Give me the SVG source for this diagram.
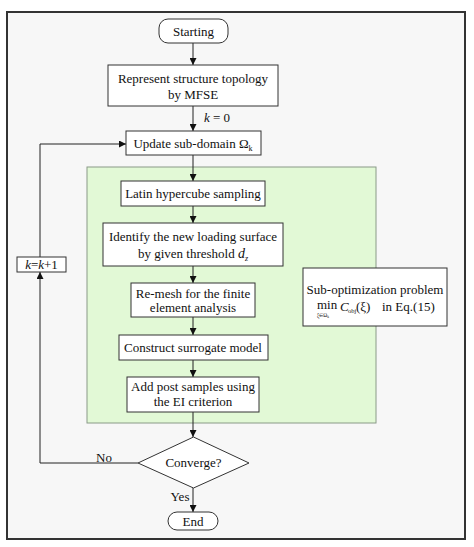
<svg xmlns="http://www.w3.org/2000/svg" width="474" height="547" viewBox="0 0 474 547">
<style>
.box{fill:#fff;stroke:#333;stroke-width:1}
.ln{fill:none;stroke:#222;stroke-width:1}
text{font-family:"Liberation Serif","Times New Roman",serif;font-size:13px;fill:#111}
.c{text-anchor:middle}
.i{font-style:italic}
</style>
<defs>
<marker id="ah" viewBox="0 0 8 8" refX="8" refY="4" markerWidth="7" markerHeight="7" markerUnits="userSpaceOnUse" orient="auto">
<path d="M0,0 L8,4 L0,8 z" fill="#111"/>
</marker>
</defs>
<rect x="0" y="0" width="474" height="547" fill="#fff"/>
<rect x="7" y="12" width="458" height="527" fill="#f7f7f7" stroke="#333" stroke-width="2"/>
<g id="loop">
<rect x="87" y="167" width="289" height="256" fill="#e2f9d6" stroke="#8a9a88" stroke-width="1"/>
</g>
<g id="connectors">
<line class="ln" x1="193" y1="43" x2="193" y2="65" marker-end="url(#ah)"/>
<line class="ln" x1="193" y1="106" x2="193" y2="131" marker-end="url(#ah)"/>
<line class="ln" x1="193" y1="155" x2="193" y2="181" marker-end="url(#ah)"/>
<line class="ln" x1="193" y1="206" x2="193" y2="223" marker-end="url(#ah)"/>
<line class="ln" x1="193" y1="266" x2="193" y2="283" marker-end="url(#ah)"/>
<line class="ln" x1="193" y1="317" x2="193" y2="335" marker-end="url(#ah)"/>
<line class="ln" x1="193" y1="360" x2="193" y2="377" marker-end="url(#ah)"/>
<line class="ln" x1="193" y1="412" x2="193" y2="437" marker-end="url(#ah)"/>
<line class="ln" x1="193" y1="488" x2="193" y2="512" marker-end="url(#ah)"/>
<polyline class="ln" points="138,463 40,463 40,272" marker-end="url(#ah)"/>
<polyline class="ln" points="40,257 40,144 126,144" marker-end="url(#ah)"/>
<text x="104" y="462" class="c">No</text>
<text x="180" y="501" class="c">Yes</text>
<text x="204" y="122"><tspan class="i">k</tspan> = 0</text>
</g>
<g id="start">
<rect class="box" x="159" y="19" width="69" height="24" rx="9"/>
<text x="193.5" y="36" class="c">Starting</text>
</g>
<g id="represent">
<rect class="box" x="108" y="65" width="170" height="41"/>
<text x="193" y="83" class="c">Represent structure topology</text>
<text x="193" y="99" class="c">by MFSE</text>
</g>
<g id="update">
<rect class="box" x="126" y="131" width="135" height="24"/>
<text x="193" y="147.5" class="c">Update sub-domain Ω<tspan font-size="8" dy="3">k</tspan></text>
</g>
<g id="latin">
<rect class="box" x="121" y="181" width="144" height="25"/>
<text x="193" y="198" class="c">Latin hypercube sampling</text>
</g>
<g id="identify">
<rect class="box" x="103" y="223" width="180" height="43"/>
<text x="193" y="241" class="c">Identify the new loading surface</text>
<text x="193" y="258" class="c">by given threshold <tspan class="i" font-size="14">d</tspan><tspan class="i" font-size="8" dy="3">z</tspan></text>
</g>
<g id="remesh">
<rect class="box" x="131" y="283" width="124" height="34"/>
<text x="193" y="298" class="c">Re-mesh for the finite</text>
<text x="193" y="312" class="c">element analysis</text>
</g>
<g id="construct">
<rect class="box" x="119" y="335" width="149" height="25"/>
<text x="193" y="352" class="c">Construct surrogate model</text>
</g>
<g id="addpost">
<rect class="box" x="127" y="377" width="132" height="35"/>
<text x="193" y="391" class="c">Add post samples using</text>
<text x="193" y="406" class="c">the EI criterion</text>
</g>
<g id="converge">
<polygon class="box" points="193.5,437 249,463 193.5,488 138,463"/>
<text x="193.5" y="467" class="c">Converge?</text>
</g>
<g id="end">
<rect class="box" x="168" y="512" width="50" height="18" rx="9"/>
<text x="193" y="525.5" class="c">End</text>
</g>
<g id="kinc">
<rect class="box" x="17" y="257" width="49" height="15"/>
<text x="41.5" y="269" class="c"><tspan class="i">k</tspan>=<tspan class="i">k</tspan>+1</text>
</g>
<g id="subopt">
<rect class="box" x="303" y="268" width="144" height="58"/>
<text x="375" y="294" class="c">Sub-optimization problem</text>
<text x="317" y="309" font-size="9.5">min</text>
<text transform="translate(317,317) scale(0.4)" font-size="12">ξ∈Ω<tspan font-size="9" dy="2">k</tspan></text>
<text x="340" y="311" class="i">C</text>
<text transform="translate(348,313) scale(0.5)" font-size="11">obj</text>
<text x="356" y="311">(ξ)</text>
<text x="382" y="311">in Eq.(15)</text>
</g>
</svg>
